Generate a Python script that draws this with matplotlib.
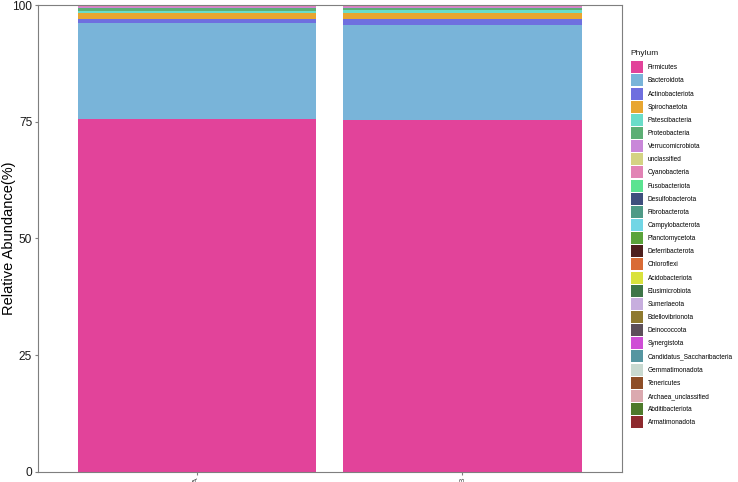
import matplotlib
matplotlib.use("Agg")
import matplotlib.pyplot as plt
from matplotlib.patches import Patch
import numpy as np

plt.rcParams['font.family'] = ['Liberation Sans', 'DejaVu Sans']

samples = ["A", "B"]
phyla = ["Firmicutes", "Bacteroidota", "Actinobacteriota", "Spirochaetota",
         "Patescibacteria", "Proteobacteria", "Verrucomicrobiota", "unclassified",
         "Cyanobacteria", "Fusobacteriota", "Desulfobacterota", "Fibrobacterota",
         "Campylobacterota", "Planctomycetota", "Deferribacterota", "Chloroflexi",
         "Acidobacteriota", "Elusimicrobiota", "Sumerlaeota", "Bdellovibrionota",
         "Deinococcota", "Synergistota", "Candidatus_Saccharibacteria",
         "Gemmatimonadota", "Tenericutes", "Archaea_unclassified",
         "Abditibacteriota", "Armatimonadota"]
abund_A = [75.7, 20.4, 1.00, 1.20, 0.45, 0.55, 0.20, 0.15, 0.15, 0.03, 0.02, 0.02,
           0.01, 0.01, 0.01, 0.01, 0.01, 0.01, 0.01, 0.01, 0.01, 0.01, 0.01,
           0.01, 0.01, 0.01, 0.01, 0.01]
abund_B = [75.4, 20.3, 1.40, 1.30, 0.70, 0.25, 0.20, 0.15, 0.15, 0.03, 0.02, 0.02,
           0.01, 0.01, 0.01, 0.01, 0.01, 0.01, 0.01, 0.01, 0.01, 0.01, 0.01,
           0.01, 0.01, 0.01, 0.01, 0.01]
colors = ["#E2439A", "#79B4D9", "#6F6FDF", "#E8A630", "#6ADDC9", "#5CAF75",
          "#C987D9", "#D4D383", "#E283B5", "#5BE391", "#3F4F7D", "#4E9A86",
          "#72D6E5", "#5AA33A", "#4E1F1D", "#D96B35", "#D9E23D", "#3E7548",
          "#C7AEDE", "#8F7A2E", "#5C4F5A", "#CF4ED6", "#5696A1", "#C9D9D0",
          "#8E4E27", "#DBA9AF", "#4E7A2B", "#8E2A2E"]

data = np.array([abund_A, abund_B])
# normalise to 100 %
data = data / data.sum(axis=1, keepdims=True) * 100

W, H = 738, 482
fig = plt.figure(figsize=(W / 100, H / 100), dpi=100)
ax = fig.add_axes([37.7 / W, (H - 471.7) / H, (621.7 - 37.7) / W, (471.7 - 5.0) / H])

x = np.arange(len(samples)) + 1
bottom = np.zeros(len(samples))
for i, name in enumerate(phyla):
    ax.bar(x, data[:, i], bottom=bottom, width=0.9, color=colors[i], linewidth=0)
    bottom += data[:, i]

ax.set_xlim(0.4, 2.6)
ax.set_ylim(0, 100)
ax.set_xticks(x)
ax.set_xticklabels(samples, rotation=90, fontsize=6, color="#4D4D4D")
ax.set_yticks([0, 25, 50, 75, 100])
ax.set_yticklabels(["0", "25", "50", "75", "100"], fontsize=8.6, color="#1A1A1A")
ax.tick_params(axis="both", length=2.5, width=0.8, color="#7F7F7F", pad=1.5)
for sp in ax.spines.values():
    sp.set_color("#7F7F7F")
    sp.set_linewidth(0.8)
ax.set_ylabel("Relative Abundance(%)", fontsize=10.5)
ax.yaxis.label.set_va("center")
ax.yaxis.set_label_coords((8.5 - 37.7) / (621.7 - 37.7), 0.5)

fs = 4.7
px = fs * 100 / 72
hh = (12.0 / px - 0.245) / 0.65
handles = [Patch(facecolor=c, edgecolor="none") for c in colors]
leg = fig.legend(handles, phyla, loc="upper left",
                 bbox_to_anchor=(630.7 / W, (H - 61.3) / H), frameon=False,
                 fontsize=fs, handlelength=12.0 / px,
                 handleheight=hh, labelspacing=1.14 / px, handletextpad=5.0 / px,
                 borderpad=0, borderaxespad=0)
fig.text(630.7 / W, (H - 53.5) / H, "Phylum", fontsize=6, ha="left", va="center",
         color="#1A1A1A")

fig.savefig("out.png", dpi=100)
